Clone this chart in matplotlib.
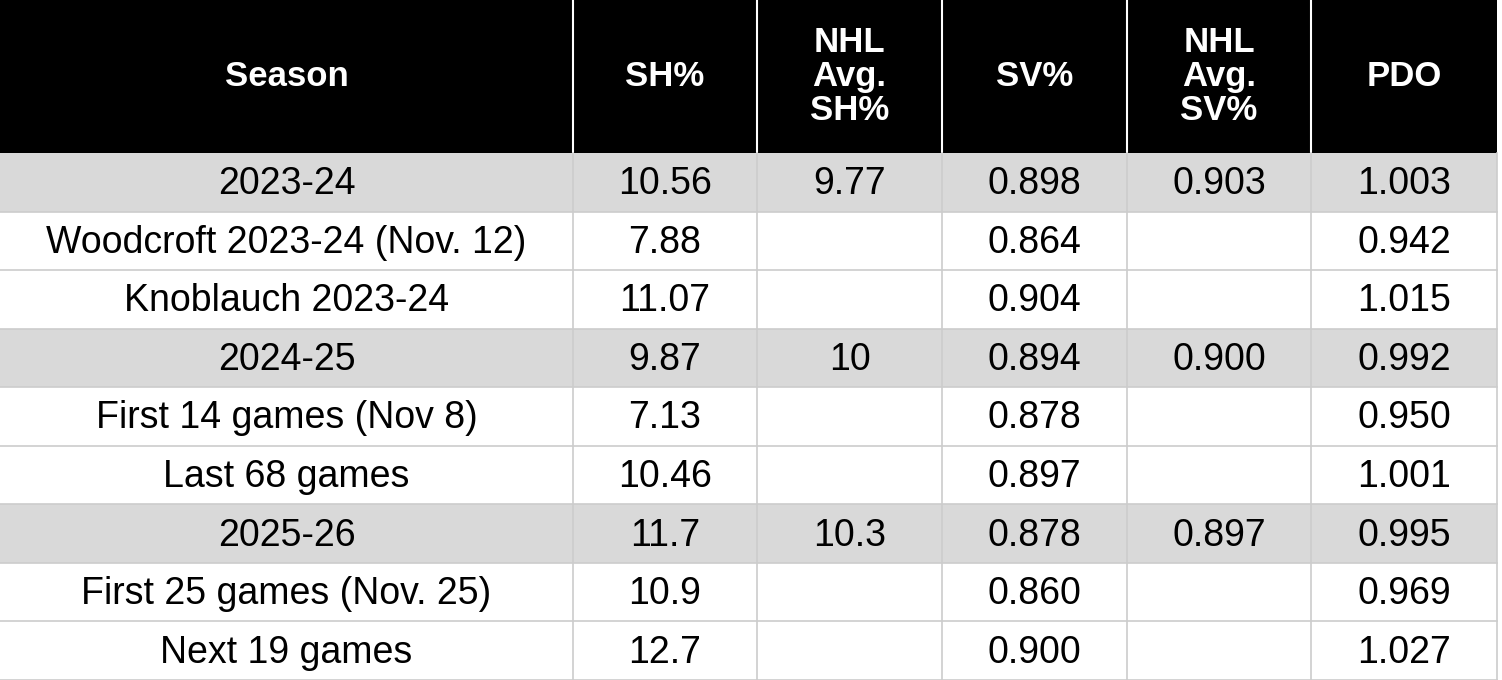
import matplotlib
matplotlib.use("Agg")
import matplotlib.pyplot as plt
from matplotlib.patches import Rectangle

headers = ["Season", "SH%", "NHL\nAvg.\nSH%", "SV%", "NHL\nAvg.\nSV%", "PDO"]
seasons = ["2023-24", "Woodcroft 2023-24 (Nov. 12)", "Knoblauch 2023-24", "2024-25",
           "First 14 games (Nov 8)", "Last 68 games", "2025-26",
           "First 25 games (Nov. 25)", "Next 19 games"]
sh = ["10.56", "7.88", "11.07", "9.87", "7.13", "10.46", "11.7", "10.9", "12.7"]
nhl_sh = ["9.77", "", "", "10", "", "", "10.3", "", ""]
sv = ["0.898", "0.864", "0.904", "0.894", "0.878", "0.897", "0.878", "0.860", "0.900"]
nhl_sv = ["0.903", "", "", "0.900", "", "", "0.897", "", ""]
pdo = ["1.003", "0.942", "1.015", "0.992", "0.950", "1.001", "0.995", "0.969", "1.027"]
highlight = [True, False, False, True, False, False, True, False, False]

cols = [seasons, sh, nhl_sh, sv, nhl_sv, pdo]
edges = [0, 573, 757, 942, 1127, 1311, 1497]
W, H = 1502, 680
head_h = 153
row_h = (H - head_h) / len(seasons)

fig = plt.figure(figsize=(15.02, 6.8), dpi=100)
ax = fig.add_axes([0, 0, 1, 1])
ax.set_xlim(0, W)
ax.set_ylim(H, 0)
ax.axis("off")
font = "Liberation Sans"

ax.add_patch(Rectangle((0, 0), edges[-1], head_h, color="black", lw=0))
for j, h in enumerate(headers):
    cx = (edges[j] + edges[j + 1]) / 2
    ax.text(cx, head_h / 2, h, color="white", fontsize=25, fontweight="bold",
            ha="center", va="center", family=font, linespacing=1.05)
for j in range(1, len(edges) - 1):
    ax.plot([edges[j], edges[j]], [0, head_h], color="white", lw=1.5)

for i in range(len(seasons)):
    y0 = head_h + i * row_h
    if highlight[i]:
        ax.add_patch(Rectangle((0, y0), edges[-1], row_h, color="#d9d9d9", lw=0))
    for j, col in enumerate(cols):
        cx = (edges[j] + edges[j + 1]) / 2
        ax.text(cx, y0 + row_h / 2 + 2, col[i], color="black", fontsize=27,
                ha="center", va="center", family=font)
    ax.plot([0, edges[-1]], [y0 + row_h, y0 + row_h], color="#cccccc", lw=1.2)
for j in range(1, len(edges)):
    ax.plot([edges[j], edges[j]], [head_h, H], color="#cccccc", lw=1.2)

fig.savefig("out.png", dpi=100, facecolor="white")
